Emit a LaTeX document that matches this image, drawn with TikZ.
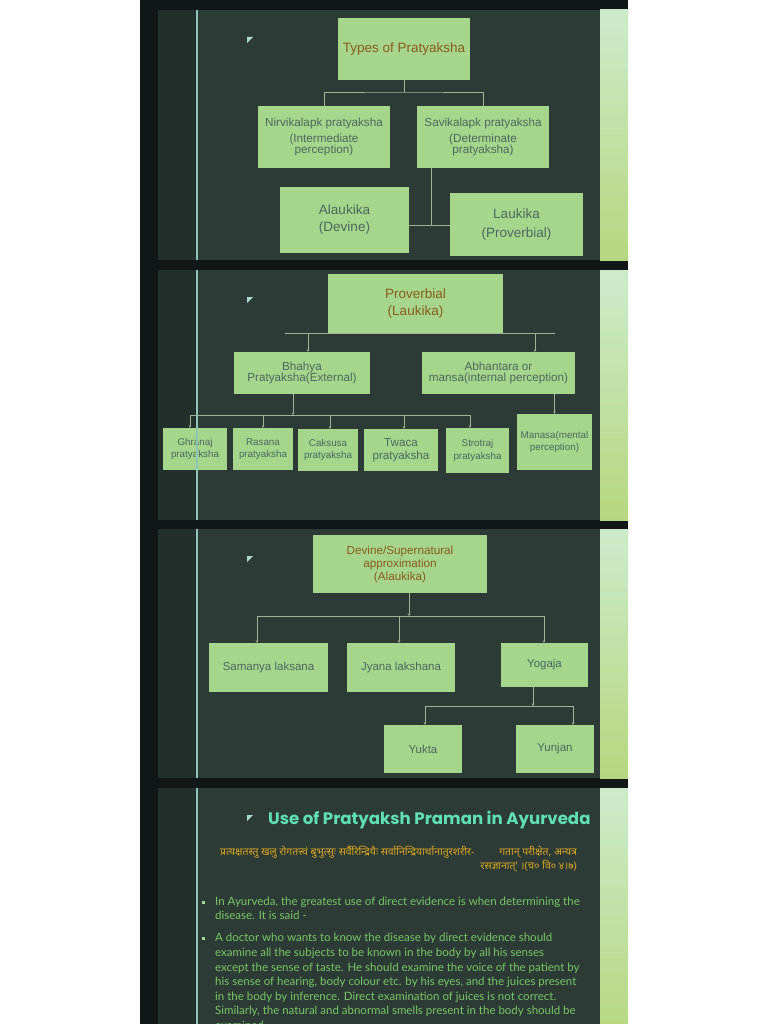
\documentclass[tikz,border=0pt]{standalone}
\usepackage{fontspec}
\setmainfont{Liberation Sans}
\newfontfamily\bodyfont{Lato}
\newfontfamily\headfont{Poppins}
\newfontfamily\devfont[Script=Devanagari]{Noto Sans}
\usetikzlibrary{arrows.meta,positioning}
\definecolor{pageblack}{HTML}{111716}
\definecolor{sidedark}{HTML}{232F2B}
\definecolor{slidebg}{HTML}{2D3B36}
\definecolor{ruleteal}{HTML}{8EC4B6}
\definecolor{stripA}{HTML}{CDEBCB}
\definecolor{stripB}{HTML}{B6D77E}
\definecolor{boxgreen}{HTML}{A5D68C}
\definecolor{boxtext}{HTML}{4C685E}
\definecolor{headbrown}{HTML}{8B5A1F}
\definecolor{linkgrey}{HTML}{A3B39A}
\definecolor{markteal}{HTML}{A9D9D0}
\definecolor{titlemint}{HTML}{5FE0B4}
\definecolor{devgold}{HTML}{DDA822}
\definecolor{bodygreen}{HTML}{79C766}
\tikzset{
  box/.style   = {fill=boxgreen, text=boxtext, align=center, inner sep=1pt},
  head/.style  = {box, text=headbrown},
  big/.style   = {font=\fontsize{13.5}{17}\selectfont},
  mid/.style   = {font=\fontsize{11.7}{11.5}\selectfont},
  small/.style = {font=\fontsize{9.8}{12.5}\selectfont},
  link/.style  = {draw=linkgrey, line width=0.7pt},
  arr/.style   = {link, -{Stealth[length=2.5pt,width=2.5pt]}},
  line/.style  = {font=\bodyfont\fontsize{11.5}{14}\selectfont, text=bodygreen,
                  anchor=base west, inner sep=0},
  verse/.style = {font=\devfont\fontsize{10.4}{12}\selectfont, text=devgold, inner sep=0},
}

\begin{document}
\begin{tikzpicture}[x=1pt,y=-1pt]
  \useasboundingbox (0,0) rectangle (768,1024);
  \clip (0,0) rectangle (768,1024);
  \fill[white] (0,0) rectangle (768,1024);
  \fill[pageblack] (140,0) rectangle (628,1024);
  % the four slides
  \foreach \t/\b in {10/260, 270/520, 529/778, 788/1040} {
    \fill[sidedark] (158,\t) rectangle (197,\b);
    \fill[slidebg] (197,\t) rectangle (600,\b);
    \shade[top color=stripA, bottom color=stripB] (600,\t) rectangle (628,\b);
    \fill[markteal] (247,\t+27) -- ++(6,0) -- ++(-6,6) -- cycle;
  }

  % slide 1
  \node[head, big, minimum width=132, minimum height=62] (types) at (404,49) {Types of Pratyaksha};
  \node[box, mid, minimum width=132, minimum height=62] (nirv) at (324,137)
      {Nirvikalapk pratyaksha\\[4pt](Intermediate\\perception)};
  \node[box, mid, minimum width=132, minimum height=62] (savik) at (483,137)
      {Savikalapk pratyaksha\\[4pt](Determinate\\pratyaksha)};
  \node[box, big, minimum width=129, minimum height=66] (alauk) at (344.5,220) {Alaukika\\(Devine)};
  \node[box, big, minimum width=133, minimum height=63] (lauk) at (516.5,224.5)
      {\raisebox{9pt}{\begin{tabular}{@{}c@{}}Laukika\\[2pt](Proverbial)\end{tabular}}};
  \coordinate (t1) at (404,92);
  \draw[link] (types.south) -- (t1);
  \draw[link] (nirv.north) |- (t1) -| (savik.north);
  \coordinate (j1) at (431,225);
  \draw[link] (savik.south -| j1) -- (j1);
  \draw[link] (alauk.east |- j1) -- (lauk.west |- j1);

  % slide 2
  \node[head, big, minimum width=175, minimum height=59] (prov) at (415.5,303.5)
      {\fontsize{13.5}{16}\selectfont Proverbial\\(Laukika)};
  \node[box, mid, minimum width=136, minimum height=42] (bhahya) at (302,373)
      {\fontsize{11.7}{15}\selectfont Bhahya\\Pratyaksha(External)};
  \node[box, mid, minimum width=153, minimum height=42] (abhan) at (498.5,373)
      {\fontsize{11.7}{15}\selectfont Abhantara or\\mansa(internal perception)};
  \node[box, small, minimum width=64, minimum height=42] (ghr) at (195,449) {Ghranaj\\pratyaksha};
  \node[box, small, minimum width=60, minimum height=42] (ras) at (263,449) {Rasana\\pratyaksha};
  \node[box, small, minimum width=60, minimum height=42] (cak) at (328,450) {Caksusa\\pratyaksha};
  \node[box, font=\fontsize{11.6}{13.5}\selectfont, minimum width=74, minimum height=42] (twa)
      at (401,450) {Twaca\\pratyaksha};
  \node[box, small, minimum width=63, minimum height=45] (str) at (477.5,450.5) {Strotraj\\pratyaksha};
  \node[box, small, minimum width=75, minimum height=56] (man) at (554.5,442)
      {\fontsize{9.8}{11}\selectfont Manasa(mental\\perception)};
  \coordinate (h1l) at (285,333);
  \coordinate (h1r) at (555,333);
  \draw[link] (h1l) -- (h1r);
  \coordinate (p1) at (308,333);
  \coordinate (p2) at (535,333);
  \draw[arr] (p1) -- (p1 |- bhahya.north);
  \draw[arr] (p2) -- (p2 |- abhan.north);
  \coordinate (b1) at (293,415);
  \draw[arr] (bhahya.south -| b1) -- (b1);
  \coordinate (h2l) at (190,415);
  \coordinate (h2r) at (470,415);
  \draw[link] (h2l) -- (h2r);
  \foreach \n/\x in {ghr/190, ras/263, cak/330, twa/404, str/470} {
    \coordinate (s\n) at (\x,415);
    \draw[arr] (s\n) -- (s\n |- \n.north);
  }
  \draw[arr] (abhan.south -| man.north) -- (man.north);

  % slide 3
  \node[head, minimum width=174, minimum height=58, font=\fontsize{11.7}{13}\selectfont] (devine)
      at (400,564) {Devine/Supernatural\\approximation\\(Alaukika)};
  \node[box, font=\fontsize{11.5}{14}\selectfont, minimum width=119, minimum height=49] (sam)
      at (268.5,667.5) {Samanya laksana};
  \node[box, font=\fontsize{11.5}{14}\selectfont, minimum width=108, minimum height=49] (jya)
      at (401,667.5) {Jyana lakshana};
  \node[box, font=\fontsize{11.5}{14}\selectfont, minimum width=87, minimum height=44] (yog)
      at (544.5,665) {Yogaja};
  \node[box, font=\fontsize{11.5}{14}\selectfont, minimum width=78, minimum height=48] (yuk)
      at (423,749) {Yukta};
  \node[box, font=\fontsize{11.5}{14}\selectfont, minimum width=78, minimum height=48] (yun)
      at (555,749) {Yunjan};
  \coordinate (d1) at (409,616);
  \draw[arr] (devine.south -| d1) -- (d1);
  \coordinate (h3l) at (257,616);
  \coordinate (h3r) at (544,616);
  \draw[link] (h3l) -- (h3r);
  \foreach \n/\x in {sam/257, jya/399, yog/544} {
    \coordinate (r\n) at (\x,616);
    \draw[arr] (r\n) -- (r\n |- \n.north);
  }
  \coordinate (d2) at (533,706);
  \draw[arr] (yog.south -| d2) -- (d2);
  \coordinate (h4l) at (425,706);
  \coordinate (h4r) at (573,706);
  \draw[link] (h4l) -- (h4r);
  \foreach \n/\x in {yuk/425, yun/573} {
    \coordinate (u\n) at (\x,706);
    \draw[arr] (u\n) -- (u\n |- \n.north);
  }

  % slide 4
  \node[font=\headfont\bfseries\fontsize{16.6}{20}\selectfont, text=titlemint, anchor=base west,
      inner sep=0] (usetitle) at (268,824) {Use of Pratyaksh Praman in Ayurveda};
  \node[verse, anchor=base west] (sk1) at (220,855)
      {प्रत्यक्षतस्तु खलु रोगतत्त्वं बुभुत्सुः सर्वैरिन्द्रियैः सर्वानिन्द्रियार्थानातुरशरीर-};
  \node[verse, anchor=base east] (sk2) at (577,855) {गतान् परीक्षेत, अन्यत्र};
  \node[verse, anchor=base east] (sk3) at (577,869.5) {रसज्ञानात्' ।(च० वि० ४।७)};
  \foreach \y in {902, 938}
    \fill[bodygreen!70!white] (201.5,\y-1.5) rectangle ++(3,3);
  \foreach \i/\y/\t in {
      1/905/{In Ayurveda, the greatest use of direct evidence is when determining the},
      2/919.5/{disease. It is said -},
      3/941.5/{A doctor who wants to know the disease by direct evidence should},
      4/956.5/{examine all the subjects to be known in the body by all his senses},
      5/971/{except the sense of taste. He should examine the voice of the patient by},
      6/985.5/{his sense of hearing, body colour etc. by his eyes, and the juices present},
      7/1000.5/{in the body by inference. Direct examination of juices is not correct.},
      8/1014.5/{Similarly, the natural and abnormal smells present in the body should be},
      9/1029.5/{examined.}}
    \node[line] (ln\i) at (215,\y) {\t};

  % rules on the left of each slide
  \foreach \t/\b in {10/260, 270/520, 529/778, 788/1040}
    \draw[ruleteal, line width=1.6pt] (197,\t) -- (197,\b);
\end{tikzpicture}
\end{document}
